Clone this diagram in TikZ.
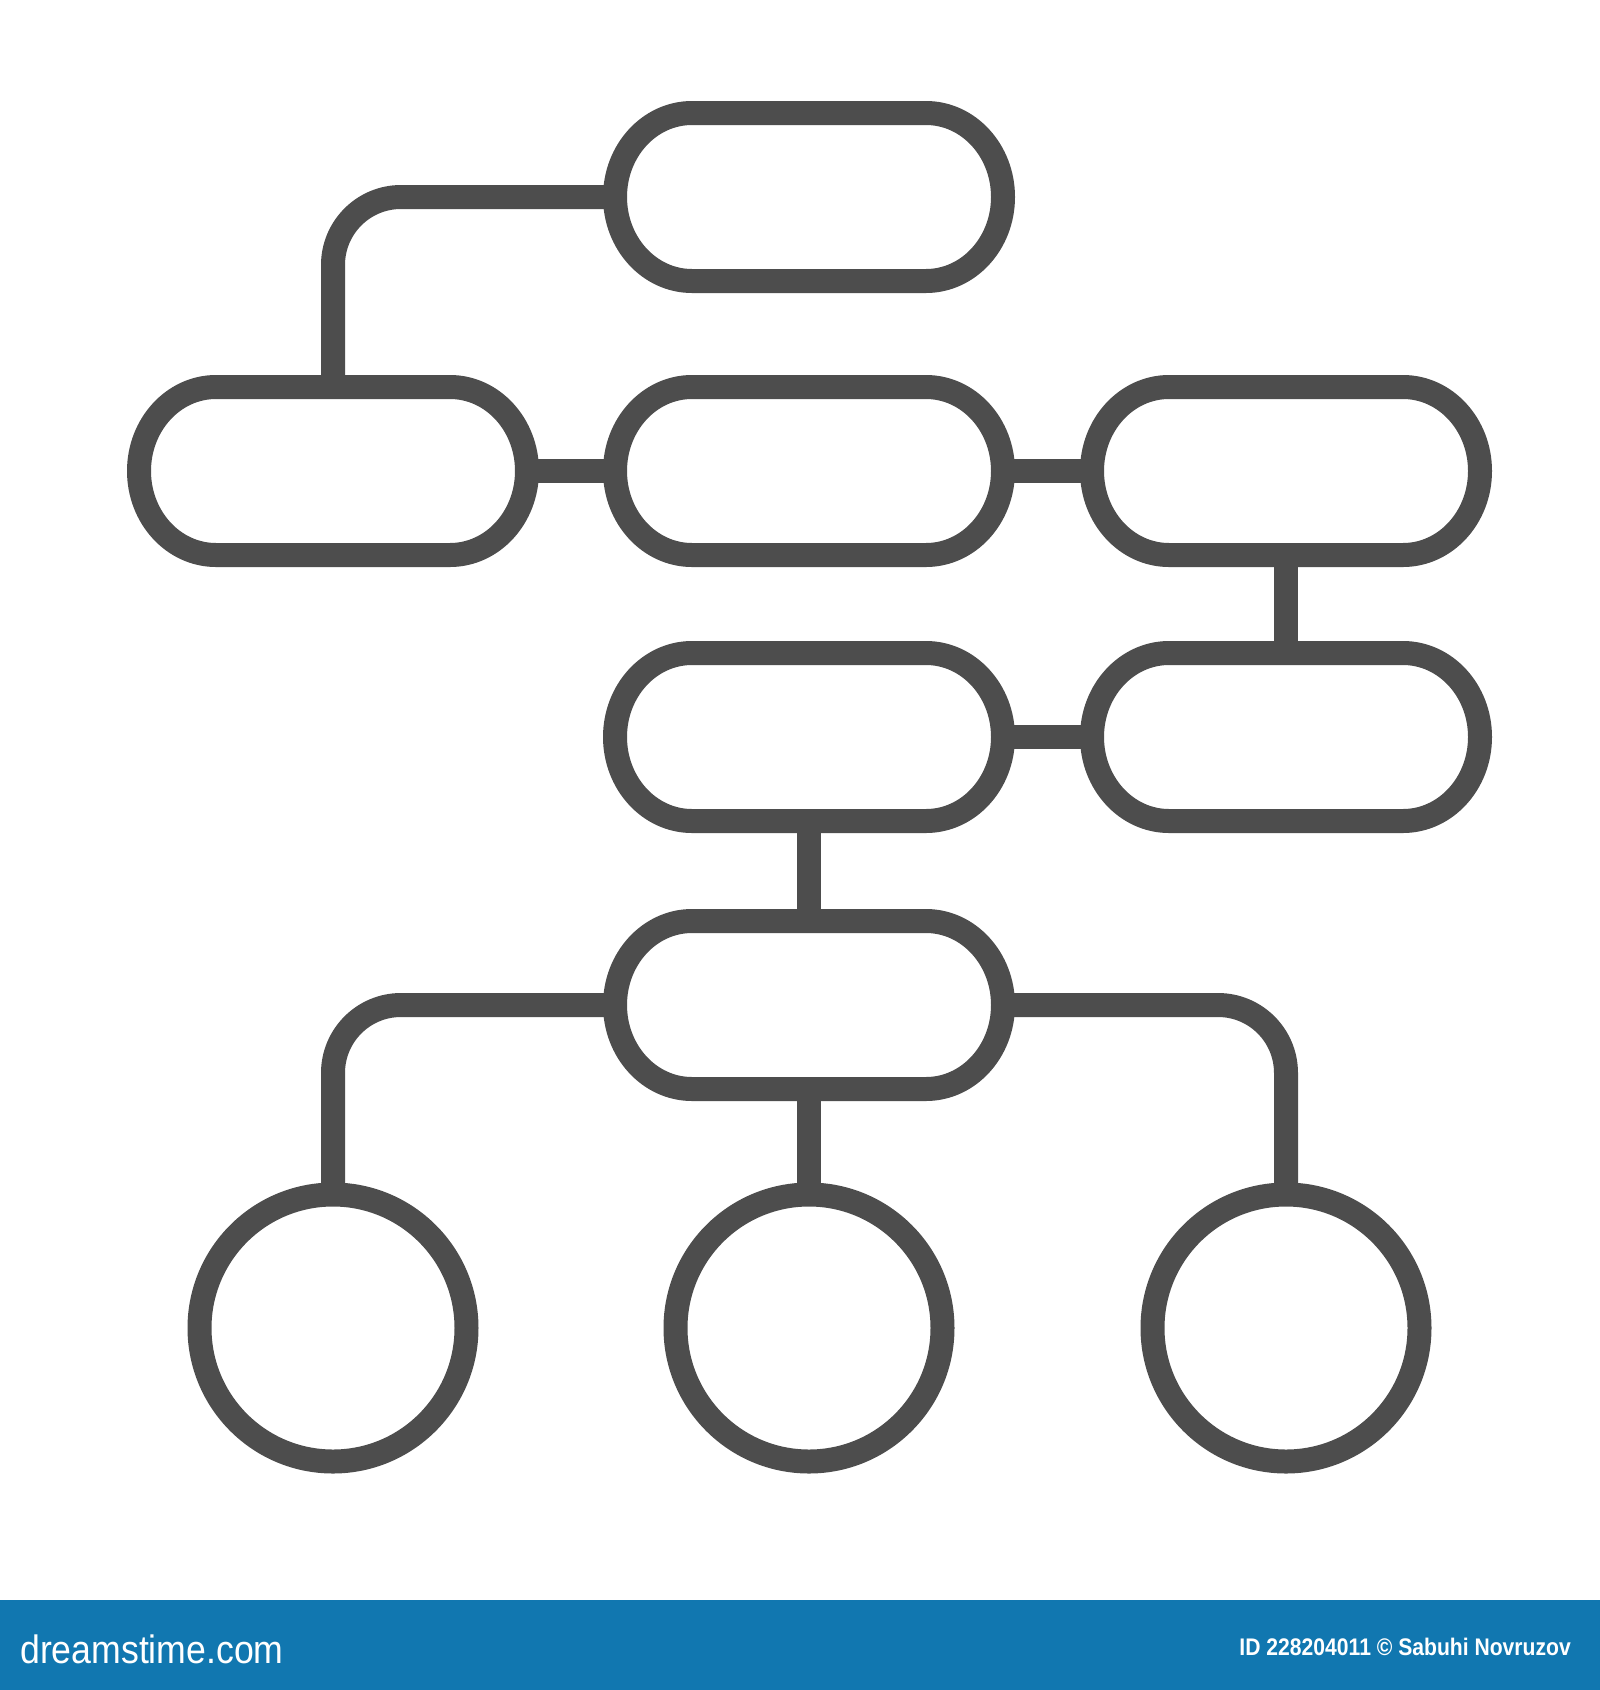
\documentclass[tikz,border=0pt]{standalone}
\usepackage{fontspec}
\setmainfont{Liberation Sans}
\usetikzlibrary{calc}
\definecolor{ink}{HTML}{4D4D4D}
\definecolor{bannerblue}{HTML}{1177B0}
\newcommand\pillshape[1]{%
  \draw[ink,line width=24pt,line join=round] ($(#1.north)+(117,0)$)
    arc[start angle=90,end angle=-90,x radius=77pt,y radius=84pt]
    -- ++(-234,0)
    arc[start angle=270,end angle=90,x radius=77pt,y radius=84pt]
    -- cycle;}
\begin{document}
\begin{tikzpicture}[x=1pt,y=-1pt,
  box/.style={draw=none,minimum width=388pt,minimum height=168pt,inner sep=0pt,outer sep=0pt},
  ring/.style={draw=ink,line width=24pt,circle,minimum size=267pt,inner sep=0pt,outer sep=0pt},
  link/.style={draw=ink,line width=24pt,rounded corners=68pt}]
\fill[white] (0,0) rectangle (1600,1690);
\useasboundingbox (0,0) rectangle (1600,1690);
% boxes
\node[box] (top) at (809,197) {};
\node[box] (a1) at (333,471) {};
\node[box] (a2) at (809,471) {};
\node[box] (a3) at (1286,471) {};
\node[box] (b2) at (809,737) {};
\node[box] (b3) at (1286,737) {};
\node[box] (c2) at (809,1005) {};
\foreach \n in {top,a1,a2,a3,b2,b3,c2} {\pillshape{\n}}
\node[ring] (d1) at (333,1328) {};
\node[ring] (d2) at (809,1328) {};
\node[ring] (d3) at (1286,1328) {};
% connectors
\draw[link] (top.west) -| (a1.north);
\draw[link] (a1.east) -- (a2.west);
\draw[link] (a2.east) -- (a3.west);
\draw[link] (a3.south) -- (b3.north);
\draw[link] (b2.east) -- (b3.west);
\draw[link] (b2.south) -- (c2.north);
\draw[link] (c2.west) -| (d1.north);
\draw[link] (c2.east) -| (d3.north);
\draw[link] (c2.south) -- (d2.north);
% banner
\fill[bannerblue] (0,1600) rectangle (1600,1690);
\node[anchor=base west,inner sep=0pt,text=white,font=\fontsize{36pt}{40pt}\selectfont] (logo) at (20,1663) {\scalebox{0.99}[1.1]{dreamstime.com}};
\node[anchor=base east,inner sep=0pt,text=white,font=\bfseries\fontsize{24pt}{28pt}\selectfont] (credit) at (1571,1655) {\scalebox{0.88}[1.0]{ID 228204011 © Sabuhi Novruzov}};
\end{tikzpicture}
\end{document}
